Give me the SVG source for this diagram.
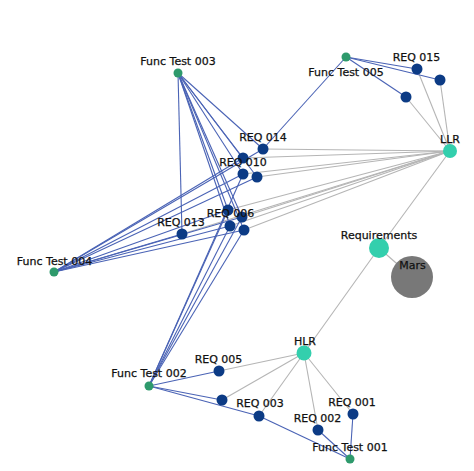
<svg xmlns="http://www.w3.org/2000/svg" width="474" height="471" viewBox="0 0 474 471">
<style>
.g{stroke:#b5b5b5;stroke-width:1.1;fill:none}
.b{stroke:#4a63b5;stroke-width:1.1;fill:none}
.ft{fill:#2e9a6c}
.top{fill:#33cfad}
.req{fill:#0c3b85}
.mars{fill:#787878}
text{font-family:"DejaVu Sans",Verdana,sans-serif;font-size:11px;fill:#111;stroke:#111;stroke-width:0.25;text-anchor:middle}
</style>
<rect width="474" height="471" fill="#ffffff"/>
<g id="connectors">
<line class="g" x1="450" y1="151" x2="379" y2="248"/>
<line class="g" x1="379" y1="248" x2="304" y2="353"/>
<line class="g" x1="379" y1="248" x2="412" y2="277"/>
<line class="g" x1="450" y1="151" x2="417" y2="69"/>
<line class="g" x1="450" y1="151" x2="440" y2="80"/>
<line class="g" x1="450" y1="151" x2="406" y2="97"/>
<line class="g" x1="450" y1="151" x2="263" y2="149"/>
<line class="g" x1="450" y1="151" x2="243" y2="158"/>
<line class="g" x1="450" y1="151" x2="243" y2="174"/>
<line class="g" x1="450" y1="151" x2="257" y2="177"/>
<line class="g" x1="450" y1="151" x2="228" y2="210"/>
<line class="g" x1="450" y1="151" x2="242" y2="217"/>
<line class="g" x1="450" y1="151" x2="230" y2="226"/>
<line class="g" x1="450" y1="151" x2="244" y2="230"/>
<line class="g" x1="450" y1="151" x2="182" y2="234"/>
<line class="g" x1="304" y1="353" x2="219" y2="371"/>
<line class="g" x1="304" y1="353" x2="222" y2="400"/>
<line class="g" x1="304" y1="353" x2="259" y2="416"/>
<line class="g" x1="304" y1="353" x2="318" y2="430"/>
<line class="g" x1="304" y1="353" x2="353" y2="414"/>
<line class="b" x1="346" y1="57" x2="417" y2="69"/>
<line class="b" x1="346" y1="57" x2="440" y2="80"/>
<line class="b" x1="346" y1="57" x2="406" y2="97"/>
<line class="b" x1="346" y1="57" x2="263" y2="149"/>
<line class="b" x1="178" y1="73" x2="263" y2="149"/>
<line class="b" x1="178" y1="73" x2="243" y2="158"/>
<line class="b" x1="178" y1="73" x2="243" y2="174"/>
<line class="b" x1="178" y1="73" x2="257" y2="177"/>
<line class="b" x1="178" y1="73" x2="228" y2="210"/>
<line class="b" x1="178" y1="73" x2="242" y2="217"/>
<line class="b" x1="178" y1="73" x2="230" y2="226"/>
<line class="b" x1="178" y1="73" x2="244" y2="230"/>
<line class="b" x1="178" y1="73" x2="182" y2="234"/>
<line class="b" x1="54" y1="272" x2="263" y2="149"/>
<line class="b" x1="54" y1="272" x2="243" y2="158"/>
<line class="b" x1="54" y1="272" x2="243" y2="174"/>
<line class="b" x1="54" y1="272" x2="257" y2="177"/>
<line class="b" x1="54" y1="272" x2="228" y2="210"/>
<line class="b" x1="54" y1="272" x2="242" y2="217"/>
<line class="b" x1="54" y1="272" x2="230" y2="226"/>
<line class="b" x1="54" y1="272" x2="244" y2="230"/>
<line class="b" x1="54" y1="272" x2="182" y2="234"/>
<line class="b" x1="149" y1="386" x2="243" y2="174"/>
<line class="b" x1="149" y1="386" x2="228" y2="210"/>
<line class="b" x1="149" y1="386" x2="242" y2="217"/>
<line class="b" x1="149" y1="386" x2="230" y2="226"/>
<line class="b" x1="149" y1="386" x2="244" y2="230"/>
<line class="b" x1="149" y1="386" x2="219" y2="371"/>
<line class="b" x1="149" y1="386" x2="222" y2="400"/>
<line class="b" x1="149" y1="386" x2="259" y2="416"/>
<line class="b" x1="350" y1="459" x2="259" y2="416"/>
<line class="b" x1="350" y1="459" x2="318" y2="430"/>
<line class="b" x1="350" y1="459" x2="353" y2="414"/>
</g>
<g id="mars"><circle class="mars" cx="412" cy="277" r="21"/><text x="412.5" y="269">Mars</text></g>
<g id="requirements"><circle class="top" cx="379" cy="248" r="10"/><text x="379" y="239">Requirements</text></g>
<g id="llr"><circle class="top" cx="450" cy="151" r="7"/><text x="450" y="143">LLR</text></g>
<g id="hlr"><circle class="top" cx="304" cy="353" r="7.5"/><text x="305" y="345">HLR</text></g>
<g id="ft003"><circle class="ft" cx="178" cy="73" r="4.5"/><text x="178" y="64.5">Func Test 003</text></g>
<g id="ft005"><circle class="ft" cx="346" cy="57" r="4.5"/><text x="346" y="75.5">Func Test 005</text></g>
<g id="ft004"><circle class="ft" cx="54" cy="272" r="4.5"/><text x="54.5" y="264.5">Func Test 004</text></g>
<g id="ft002"><circle class="ft" cx="149" cy="386" r="4.5"/><text x="149" y="377">Func Test 002</text></g>
<g id="ft001"><circle class="ft" cx="350" cy="459" r="4.5"/><text x="350" y="450.5">Func Test 001</text></g>
<g id="req015"><circle class="req" cx="417" cy="69" r="5.5"/><text x="416.5" y="60.5">REQ 015</text></g>
<g id="req015b"><circle class="req" cx="440" cy="80" r="5.5"/></g>
<g id="req015c"><circle class="req" cx="406" cy="97" r="5.5"/></g>
<g id="req014"><circle class="req" cx="263" cy="149" r="5.5"/><text x="263" y="140.5">REQ 014</text></g>
<g id="req010a"><circle class="req" cx="243" cy="158" r="5.5"/></g>
<g id="req010b"><circle class="req" cx="243" cy="174" r="5.5"/></g>
<g id="req010c"><circle class="req" cx="257" cy="177" r="5.5"/></g>
<g id="req010label"><text x="243" y="166">REQ 010</text></g>
<g id="req006a"><circle class="req" cx="228" cy="210" r="5.5"/></g>
<g id="req006b"><circle class="req" cx="242" cy="217" r="5.5"/></g>
<g id="req006c"><circle class="req" cx="230" cy="226" r="5.5"/></g>
<g id="req006d"><circle class="req" cx="244" cy="230" r="5.5"/></g>
<g id="req006label"><text x="230.5" y="217">REQ 006</text></g>
<g id="req013"><circle class="req" cx="182" cy="234" r="5.5"/><text x="181" y="225.5">REQ 013</text></g>
<g id="req005"><circle class="req" cx="219" cy="371" r="5.5"/><text x="218.5" y="363">REQ 005</text></g>
<g id="req004"><circle class="req" cx="222" cy="400" r="5.5"/></g>
<g id="req003"><circle class="req" cx="259" cy="416" r="5.5"/><text x="260" y="406.5">REQ 003</text></g>
<g id="req002"><circle class="req" cx="318" cy="430" r="5.5"/><text x="317.5" y="422">REQ 002</text></g>
<g id="req001"><circle class="req" cx="353" cy="414" r="5.5"/><text x="352" y="405.5">REQ 001</text></g>
</svg>
